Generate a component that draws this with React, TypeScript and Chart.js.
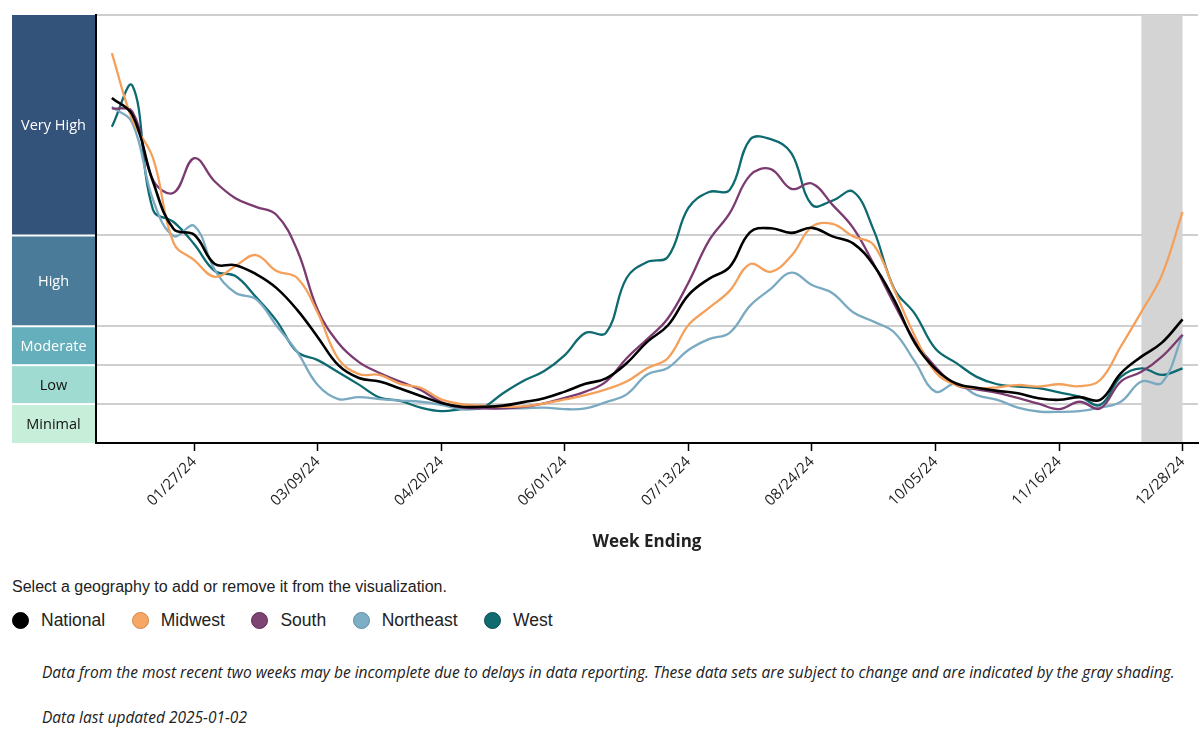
import React, { useEffect, useRef } from 'react';
import { Chart, registerables } from 'chart.js';

Chart.register(...registerables);

// Week-ending dates (one point per week)
const WEEK_ENDING = [
  '12/30/23', '01/06/24', '01/13/24', '01/20/24', '01/27/24', '02/03/24', '02/10/24', '02/17/24', '02/24/24',
  '03/02/24', '03/09/24', '03/16/24', '03/23/24', '03/30/24', '04/06/24', '04/13/24', '04/20/24', '04/27/24',
  '05/04/24', '05/11/24', '05/18/24', '05/25/24', '06/01/24', '06/08/24', '06/15/24', '06/22/24', '06/29/24',
  '07/06/24', '07/13/24', '07/20/24', '07/27/24', '08/03/24', '08/10/24', '08/17/24', '08/24/24', '08/31/24',
  '09/07/24', '09/14/24', '09/21/24', '09/28/24', '10/05/24', '10/12/24', '10/19/24', '10/26/24', '11/02/24',
  '11/09/24', '11/16/24', '11/23/24', '11/30/24', '12/07/24', '12/14/24', '12/21/24', '12/28/24',
];

const TICK_LABELS = ['01/27/24', '03/09/24', '04/20/24', '06/01/24', '07/13/24', '08/24/24', '10/05/24', '11/16/24', '12/28/24'];

const SHADED_FROM = '12/14/24';
const SHADED_TO = '12/28/24';

// Activity level bands (level index scale)
const LEVEL_NAMES = ['Minimal', 'Low', 'Moderate', 'High', 'Very High'];
const LEVEL_BOUNDS = [0, 1, 2, 3, 5.333, 11];
const LEVEL_COLORS = ['#c7eed9', '#9fdbd0', '#64afbb', '#4a7c9a', '#34537a'];
const LEVEL_TEXT_COLORS = ['#111111', '#111111', '#ffffff', '#ffffff', '#ffffff'];

const NATIONAL = [8.87, 8.43, 6.71, 5.50, 5.35, 4.60, 4.57, 4.34, 3.98, 3.42, 2.72, 2.00, 1.67, 1.58, 1.40, 1.21, 1.03, 0.93, 0.93, 0.96, 1.05, 1.15, 1.32, 1.52, 1.66, 2.05, 2.60, 3.02, 3.80, 4.22, 4.52, 5.42, 5.52, 5.40, 5.53, 5.31, 5.13, 4.57, 3.67, 2.57, 1.90, 1.53, 1.42, 1.34, 1.28, 1.15, 1.11, 1.18, 1.11, 1.79, 2.22, 2.58, 3.18];
const MIDWEST = [10.02, 8.30, 7.32, 5.14, 4.70, 4.27, 4.55, 4.83, 4.42, 4.24, 3.34, 2.16, 1.77, 1.75, 1.52, 1.42, 1.12, 1.00, 0.96, 0.93, 0.94, 1.02, 1.12, 1.23, 1.38, 1.58, 1.92, 2.18, 3.03, 3.47, 3.91, 4.60, 4.40, 4.81, 5.56, 5.63, 5.31, 5.09, 3.93, 2.75, 1.82, 1.49, 1.41, 1.43, 1.49, 1.45, 1.51, 1.46, 1.62, 2.48, 3.37, 4.32, 5.94];
const SOUTH = [8.60, 8.51, 6.76, 6.43, 7.32, 6.72, 6.29, 6.07, 5.86, 4.96, 3.42, 2.57, 2.08, 1.80, 1.58, 1.36, 1.05, 0.91, 0.89, 0.89, 0.93, 1.02, 1.16, 1.32, 1.58, 2.18, 2.67, 3.20, 4.12, 5.20, 5.90, 6.88, 7.04, 6.53, 6.67, 6.12, 5.53, 4.60, 3.57, 2.62, 1.95, 1.49, 1.38, 1.29, 1.16, 1.01, 0.87, 1.06, 0.89, 1.58, 1.83, 2.22, 2.78];
const NORTHEAST = [8.64, 8.22, 6.25, 5.32, 5.58, 4.45, 3.86, 3.70, 3.01, 2.34, 1.49, 1.13, 1.18, 1.13, 1.09, 1.06, 0.98, 0.87, 0.89, 0.89, 0.89, 0.91, 0.87, 0.89, 1.05, 1.25, 1.76, 1.93, 2.39, 2.67, 2.83, 3.53, 3.96, 4.38, 4.06, 3.85, 3.36, 3.12, 2.84, 2.09, 1.32, 1.53, 1.23, 1.11, 0.91, 0.81, 0.80, 0.82, 0.91, 1.06, 1.58, 1.55, 2.78];
const WEST = [8.13, 9.18, 5.99, 5.68, 5.11, 4.42, 4.29, 3.75, 3.14, 2.34, 2.13, 1.82, 1.50, 1.17, 1.08, 0.91, 0.82, 0.87, 0.91, 1.28, 1.60, 1.85, 2.26, 2.83, 2.83, 4.24, 4.65, 4.78, 6.04, 6.45, 6.50, 7.80, 7.81, 7.45, 6.12, 6.23, 6.46, 5.47, 3.96, 3.32, 2.42, 2.06, 1.70, 1.51, 1.45, 1.41, 1.30, 1.19, 0.98, 1.70, 1.92, 1.75, 1.92];

const SERIES = [
  { name: 'National', values: NATIONAL, color: '#000000', fill: '#000000', border: '#000000', width: 2.6 },
  { name: 'Midwest', values: MIDWEST, color: '#f5a05a', fill: '#f6a766', border: '#d08548', width: 2.3 },
  { name: 'South', values: SOUTH, color: '#7b3b70', fill: '#7d4373', border: '#5e2c56', width: 2.3 },
  { name: 'Northeast', values: NORTHEAST, color: '#79aac1', fill: '#7eaec4', border: '#5f8ea5', width: 2.3 },
  { name: 'West', values: WEST, color: '#0d6a70', fill: '#0f6b6f', border: '#0a4d51', width: 2.3 },
];

const FONT = '"Open Sans", "Noto Sans", sans-serif';

const levelBandsPlugin = {
  id: 'levelBands',
  beforeDraw(chart: any) {
    const { ctx, scales } = chart;
    const y = scales.y;
    ctx.save();
    for (let k = 0; k < LEVEL_NAMES.length; k++) {
      const top = y.getPixelForValue(LEVEL_BOUNDS[k + 1]);
      const bot = y.getPixelForValue(LEVEL_BOUNDS[k]);
      const t = k === LEVEL_NAMES.length - 1 ? top : top + 1;
      const b = k === 0 ? bot : bot - 1;
      ctx.fillStyle = LEVEL_COLORS[k];
      ctx.fillRect(y.left, t, y.right - y.left - 1, b - t);
      ctx.fillStyle = LEVEL_TEXT_COLORS[k];
      ctx.font = '14.5px ' + FONT;
      ctx.textAlign = 'center';
      ctx.textBaseline = 'middle';
      ctx.fillText(LEVEL_NAMES[k], (y.left + y.right - 1) / 2, (t + b) / 2 + 1);
    }
    ctx.restore();
  },
  beforeDatasetsDraw(chart: any) {
    const { ctx, chartArea, scales } = chart;
    const x = scales.x;
    const x1 = x.getPixelForValue(WEEK_ENDING.indexOf(SHADED_FROM));
    const x2 = x.getPixelForValue(WEEK_ENDING.indexOf(SHADED_TO));
    ctx.save();
    ctx.fillStyle = '#d4d4d4';
    ctx.fillRect(x1, chartArea.top, x2 - x1, chartArea.bottom - chartArea.top - 1);
    ctx.restore();
  },
};

function WastewaterChart() {
  const ref = useRef<HTMLCanvasElement | null>(null);

  useEffect(() => {
    if (!ref.current) return;
    const tickIndex = TICK_LABELS.map((l) => WEEK_ENDING.indexOf(l));
    const chart = new Chart(ref.current, {
      type: 'line',
      data: {
        datasets: SERIES.map((s) => ({
          label: s.name,
          data: s.values.map((v, i) => ({ x: i, y: v })),
          borderColor: s.color,
          backgroundColor: s.color,
          borderWidth: s.width,
          pointRadius: 0,
          tension: 0.4,
          fill: false,
        })),
      },
      options: {
        responsive: false,
        animation: false,
        events: [],
        layout: { padding: { left: 12, top: 15, right: 2, bottom: 0 } },
        plugins: { legend: { display: false }, tooltip: { enabled: false } },
        scales: {
          x: {
            type: 'linear',
            min: -0.77,
            max: 52.75,
            afterBuildTicks: (axis: any) => {
              axis.ticks = tickIndex.map((v) => ({ value: v }));
            },
            afterFit: (axis: any) => {
              axis.height = 112;
            },
            ticks: {
              autoSkip: false,
              minRotation: 45,
              maxRotation: 45,
              padding: 2,
              color: '#222222',
              font: { family: FONT, size: 15 },
              callback: (_v: any, i: number) => TICK_LABELS[i],
            },
            grid: {
              display: true,
              drawOnChartArea: false,
              drawTicks: true,
              tickLength: 8,
              tickColor: '#000000',
              tickWidth: 1.5,
            },
            border: { display: true, color: '#000000', width: 2 },
            title: {
              display: true,
              text: 'Week Ending',
              color: '#222222',
              font: { family: FONT, size: 17, weight: 'bold' },
              padding: { top: 0, bottom: 3 },
            },
          },
          y: {
            type: 'linear',
            min: 0,
            max: 11,
            afterBuildTicks: (axis: any) => {
              axis.ticks = LEVEL_BOUNDS.map((v) => ({ value: v }));
            },
            afterFit: (axis: any) => {
              axis.width = 84;
            },
            ticks: { display: false },
            grid: {
              drawTicks: false,
              lineWidth: 2,
              color: (ctx: any) => (ctx.tick && ctx.tick.value === 0 ? 'rgba(0,0,0,0)' : '#cfcfcf'),
            },
            border: { display: true, color: '#000000', width: 2 },
          },
        },
      },
      plugins: [levelBandsPlugin],
    } as any);
    return () => chart.destroy();
  }, []);

  return (
    <canvas
      ref={ref}
      width={1200}
      height={555}
      style={{ position: 'absolute', left: 0, top: 0, width: 1200, height: 555 }}
    />
  );
}

export default function App() {
  return (
    <div
      style={{
        position: 'absolute',
        left: 0,
        top: 0,
        width: 1200,
        height: 733,
        background: '#ffffff',
        overflow: 'hidden',
        fontFamily: '"Liberation Sans", Arial, sans-serif',
        color: '#222222',
      }}
    >
      <WastewaterChart />
      <div style={{ position: 'absolute', left: 12, top: 577, fontSize: 16, lineHeight: '20px', whiteSpace: 'nowrap' }}>
        Select a geography to add or remove it from the visualization.
      </div>
      <div style={{ position: 'absolute', left: 12, top: 610, height: 20, display: 'flex', alignItems: 'center' }}>
        {SERIES.map((s) => (
          <div key={s.name} style={{ display: 'flex', alignItems: 'center', marginRight: 26.5 }}>
            <span
              style={{
                display: 'inline-block',
                width: 15,
                height: 15,
                borderRadius: '50%',
                background: s.fill,
                border: '1px solid ' + s.border,
              }}
            />
            <span style={{ marginLeft: 12, fontSize: 17.5, lineHeight: '20px' }}>{s.name}</span>
          </div>
        ))}
      </div>
      <div
        style={{
          position: 'absolute',
          left: 42,
          top: 662,
          fontFamily: FONT,
          fontStyle: 'italic',
          fontSize: 15.5,
          lineHeight: '20px',
          whiteSpace: 'nowrap',
        }}
      >
        Data from the most recent two weeks may be incomplete due to delays in data reporting. These data sets are subject to change and are indicated by the gray shading.
      </div>
      <div
        style={{
          position: 'absolute',
          left: 42,
          top: 707,
          fontFamily: FONT,
          fontStyle: 'italic',
          fontSize: 15.5,
          lineHeight: '20px',
          whiteSpace: 'nowrap',
        }}
      >
        Data last updated 2025-01-02
      </div>
    </div>
  );
}
